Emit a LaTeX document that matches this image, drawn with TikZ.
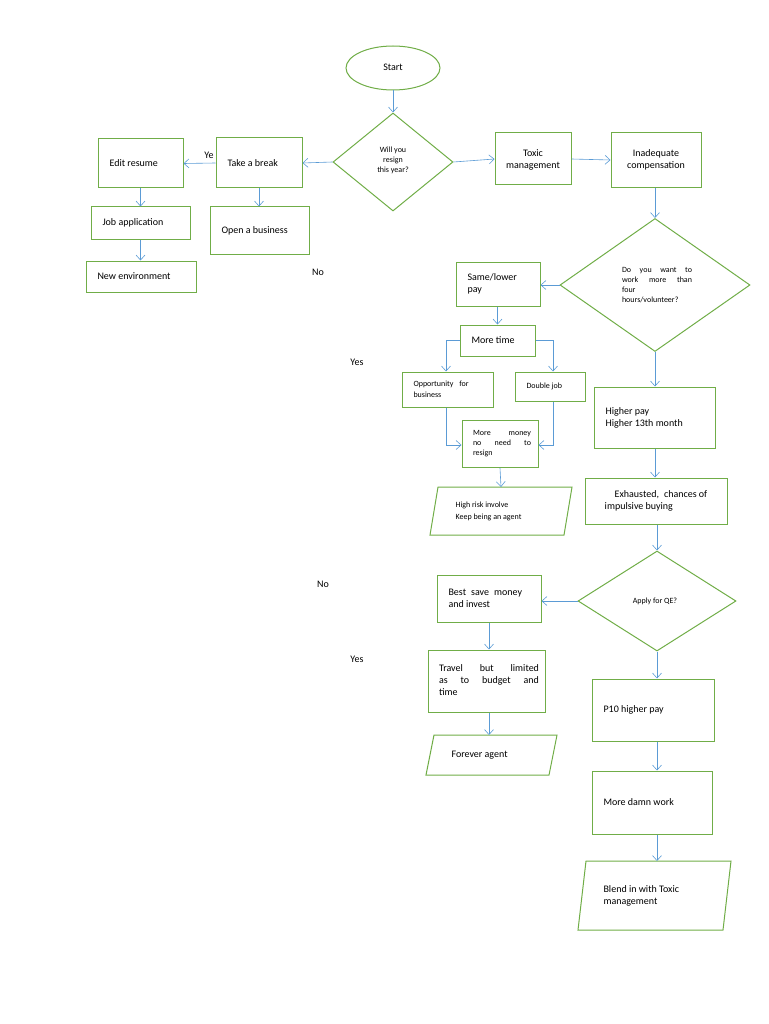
\documentclass[tikz,border=0pt]{standalone}
\usepackage{fontspec}
\setmainfont{Carlito}
\usetikzlibrary{arrows.meta,shapes.geometric}
\definecolor{gr}{HTML}{70AD47}
\definecolor{bl}{HTML}{5B9BD5}
\begin{document}
\begin{tikzpicture}[x=1pt,y=-1pt,
 box/.style={draw=gr,line width=1pt,fill=white,inner sep=0pt},
 txt/.style={font=\fontsize{10}{12}\selectfont,align=left},
 dia/.style={draw=gr,line width=1pt,diamond,aspect=1.2,inner sep=0pt},
 arr/.style={draw=bl,line width=0.6pt,-{Straight Barb[length=5pt,width=9pt]}}]
\useasboundingbox (0,0) rectangle (768,1024);
\newcommand\bx[6]{\node[box,minimum width=#4-#2,minimum height=#5-#3] (#1) at ({(#2+#4)/2},{(#3+#5)/2}) {};\node[txt,anchor=west] at (#2+8,{(#3+#5)/2}) {#6};}
\newcommand\pg[6]{\coordinate (#1) at ({(#2+#4)/2},{(#3+#5)/2});
 \draw[gr,line width=1pt] (#2+8,#3)--(#4,#3)--(#4-8,#5)--(#2,#5)--cycle;
 \node[txt,anchor=west] at (#2+22,{(#3+#5)/2}) {#6};}
% start
\node[draw=gr,line width=1pt,ellipse,minimum width=94,minimum height=44] (start) at (393,68) {};
\node[txt] at (393,67) {Start};
\node[dia,minimum width=120,minimum height=98] (d1) at (393,162) {};
\node[font=\fontsize{8}{10}\selectfont,align=center] at (393,160) {Will you\\resign\\this year?};
\bx{tb}{216}{138}{302}{188}{Take a break}
\node[txt] at (209,155) {Ye};
\bx{er}{98}{139}{183}{188}{Edit resume}
\bx{ja}{91}{207}{190}{239}{Job application}
\bx{ne}{86}{261}{196}{292}{New environment}
\bx{ob}{210}{207}{309}{254}{Open a business}
\node[box,minimum width=76,minimum height=52] (tm) at (533,159) {};
\node[txt,align=center] at (533,160) {Toxic\\management};
\node[box,minimum width=90,minimum height=55] (ic) at (656,160) {};
\node[txt,align=center] at (656,160) {Inadequate\\compensation};
\node[dia,minimum width=190,minimum height=133] (d2) at (655,285) {};
\node[font=\fontsize{8}{10}\selectfont,align=left,text width=70] at (657,285) {Do\hfill you\hfill want\hfill to\\work\hfill more\hfill than\\four\\hours/volunteer?};
\bx{sl}{456}{262}{540}{306}{Same/lower\\pay}
\bx{mt}{460}{325}{535}{356}{More time}
\bx{op}{402}{372}{493}{407}{\fontsize{8}{11}\selectfont Opportunity\hspace{6pt}for\\[-1pt]\fontsize{8}{11}\selectfont business}
\bx{dj}{515}{372}{585}{401}{\fontsize{8}{10}\selectfont Double job}
\node[box,minimum width=76,minimum height=47] (mm) at (500,444) {};
\node[font=\fontsize{8}{10}\selectfont,text width=58,align=left] at (502,444) {More\hfill money\\no\hfill need\hfill to\\resign};
\pg{hr}{430}{487}{572}{535}{\fontsize{8}{10}\selectfont High risk involve\\\fontsize{8}{10}\selectfont Keep being an agent}
\bx{hp}{594}{387}{715}{448}{Higher pay\\Higher 13th month}
\node[box,minimum width=142,minimum height=46] (ex) at (656,501) {};
\node[txt] at (656,501) {\quad Exhausted,\; chances of\\impulsive buying};
\node[dia,minimum width=158,minimum height=100] (d3) at (657,601) {};
\node[font=\fontsize{8}{10}\selectfont] at (655,601) {Apply for QE?};
\bx{bs}{437}{575}{541}{622}{Best\; save\; money\\and invest}
\node[box,minimum width=117,minimum height=62] (tr) at (487,681) {};
\node[txt,text width=100] at (489,680) {Travel\hfill but\hfill limited\\as\hfill to\hfill budget\hfill and\\time};
\pg{fa}{426}{735}{557}{775}{Forever agent}
\bx{pp}{592}{679}{714}{741}{P10 higher pay}
\bx{dw}{592}{771}{712}{834}{More damn work}
\pg{bi}{578}{861}{731}{930}{Blend in with Toxic\\management}
\node[txt] at (318,272) {No};
\node[txt] at (357,362) {Yes};
\node[txt] at (323,584) {No};
\node[txt] at (357,659) {Yes};
% arrows
\draw[arr] (start) -- (d1);
\draw[arr] (d1.west) -- (tb.east);
\draw[arr] (tb.west) -- (er.east);
\draw[arr] (er.south) -- (ja.north -| er.south);
\draw[arr] (ja.south -| er.south) -- (ne.north -| er.south);
\draw[arr] (tb.south) -- (ob.north -| tb.south);
\draw[arr] (d1.east) -- (tm.west);
\draw[arr] (tm.east) -- (ic.west);
\draw[arr] (ic.south -| d2.north) -- (d2.north);
\draw[arr] (d2.west) -- (sl.east |- d2.west);
\draw[arr] (sl.south -| mt.south) -- (mt.north);
\draw[arr] (mt.west) -| (op.north -| 446,0);
\draw[arr] (mt.east) -| (dj.north -| 553,0);
\draw[arr] (op.south -| 446,0) |- (mm.west |- 0,445);
\draw[arr] (dj.south -| 553,0) |- (mm.east |- 0,445);
\draw[arr] (mm.south) -- (hr |- 0,487);
\draw[arr] (d2.south) -- (hp.north -| d2.south);
\draw[arr] (hp.south -| d2.south) -- (ex.north -| d2.south);
\draw[arr] (ex.south -| d3.north) -- (d3.north);
\draw[arr] (d3.west) -- (bs.east |- d3.west);
\draw[arr] (d3.south) -- (pp.north -| d3.south);
\draw[arr] (bs.south -| 489,0) -- (tr.north -| 489,0);
\draw[arr] (tr.south -| 489,0) -- (489,735);
\draw[arr] (pp.south -| d3.south) -- (dw.north -| d3.south);
\draw[arr] (dw.south -| d3.south) -- (d3.south |- 0,861);
\end{tikzpicture}
\end{document}
